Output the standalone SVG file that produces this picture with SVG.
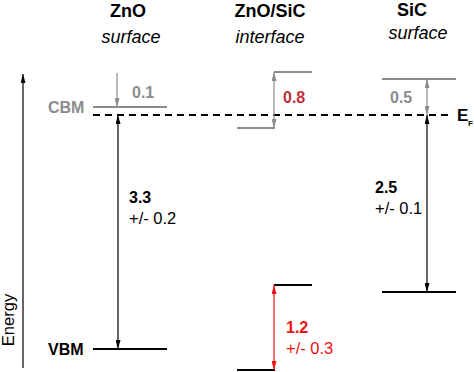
<svg xmlns="http://www.w3.org/2000/svg" width="474" height="372" viewBox="0 0 474 372">
<defs>
<marker id="ak" markerWidth="9" markerHeight="5" refX="9" refY="2.5" orient="auto-start-reverse" markerUnits="userSpaceOnUse" viewBox="0 0 9 5"><path d="M0,0 L9,2.5 L0,5 z" fill="#000"/></marker>
<marker id="ag" markerWidth="9" markerHeight="5" refX="9" refY="2.5" orient="auto-start-reverse" markerUnits="userSpaceOnUse" viewBox="0 0 9 5"><path d="M0,0 L9,2.5 L0,5 z" fill="#8c8c8c"/></marker>
<marker id="ar" markerWidth="9" markerHeight="5" refX="9" refY="2.5" orient="auto-start-reverse" markerUnits="userSpaceOnUse" viewBox="0 0 9 5"><path d="M0,0 L9,2.5 L0,5 z" fill="#f01010"/></marker>
</defs>
<style>
text{font-family:"Liberation Sans",Arial,sans-serif}
.t{font-size:18px;font-weight:bold;text-anchor:middle}
.s{font-size:18px;font-style:italic;text-anchor:middle}
.b{font-size:16px;font-weight:bold}
.n{font-size:16.5px}
.g{fill:#8c8c8c}
.lk{stroke:#000;stroke-width:2;fill:none}
.lg{stroke:#8c8c8c;stroke-width:2;fill:none}
.ak{stroke:#000;stroke-width:1.2;fill:none;marker-start:url(#ak);marker-end:url(#ak)}
.ag{stroke:#8c8c8c;stroke-width:1.2;fill:none}
.ar{stroke:#f01010;stroke-width:1.2;fill:none;marker-start:url(#ar);marker-end:url(#ar)}
</style>
<rect width="474" height="372" fill="#fff"/>

<g id="axis">
<line x1="23" y1="368" x2="23" y2="74" stroke="#000" stroke-width="1.2" marker-end="url(#ak)"/>
<text transform="translate(14,320) rotate(-90)" font-size="16.5" text-anchor="middle">Energy</text>
</g>

<g id="zno">
<text class="t" x="128" y="17">ZnO</text>
<text class="s" x="131" y="43">surface</text>
<line class="lg" x1="93" y1="107" x2="167" y2="107"/>
<text class="b g" x="48" y="113">CBM</text>
<line class="lk" x1="93" y1="349" x2="167" y2="349"/>
<text class="b" x="48" y="355">VBM</text>
<text class="b g" x="132" y="98">0.1</text>
<text class="b" x="129" y="203">3.3</text>
<text class="n" x="129" y="224">+/- 0.2</text>
</g>

<g id="interface">
<text class="t" x="270" y="17">ZnO/SiC</text>
<text class="s" x="270" y="43">interface</text>
<polyline class="lg" points="237,128 275,128"/>
<polyline class="lg" points="274,72 312,72"/>
<polyline class="lk" points="237,370 275,370"/>
<polyline class="lk" points="274,285 312,285"/>
<text class="b" x="283" y="103" fill="#c0303a">0.8</text>
<text class="b" x="286" y="333" fill="#f01010">1.2</text>
<text class="n" x="286" y="354" fill="#f01010">+/- 0.3</text>
</g>

<g id="sic">
<text class="t" x="412" y="16">SiC</text>
<text class="s" x="418" y="39">surface</text>
<line class="lg" x1="382" y1="79" x2="456" y2="79"/>
<line class="lk" x1="382" y1="292" x2="456" y2="292"/>
<text class="b g" x="390" y="103">0.5</text>
<text class="b" x="375" y="193">2.5</text>
<text class="n" x="375" y="214">+/- 0.1</text>
</g>

<g id="fermi">
<line x1="93" y1="115" x2="453" y2="115" stroke="#000" stroke-width="2.2" stroke-dasharray="7,5"/>
<text x="457" y="121" font-size="17" font-weight="bold">E</text>
<text x="468" y="126" font-size="8" font-weight="bold">F</text>
</g>

<g id="connectors">
<line class="ag" x1="117" y1="73" x2="117" y2="107" marker-end="url(#ag)"/>
<line class="ak" x1="118" y1="115" x2="118" y2="349"/>
<line class="ag" x1="274" y1="72" x2="274" y2="128" marker-start="url(#ag)" marker-end="url(#ag)"/>
<line class="ar" x1="274" y1="285" x2="274" y2="370"/>
<line class="ag" x1="427" y1="79" x2="427" y2="115" marker-start="url(#ag)" marker-end="url(#ag)"/>
<line class="ak" x1="427" y1="115" x2="427" y2="292"/>
</g>
</svg>
